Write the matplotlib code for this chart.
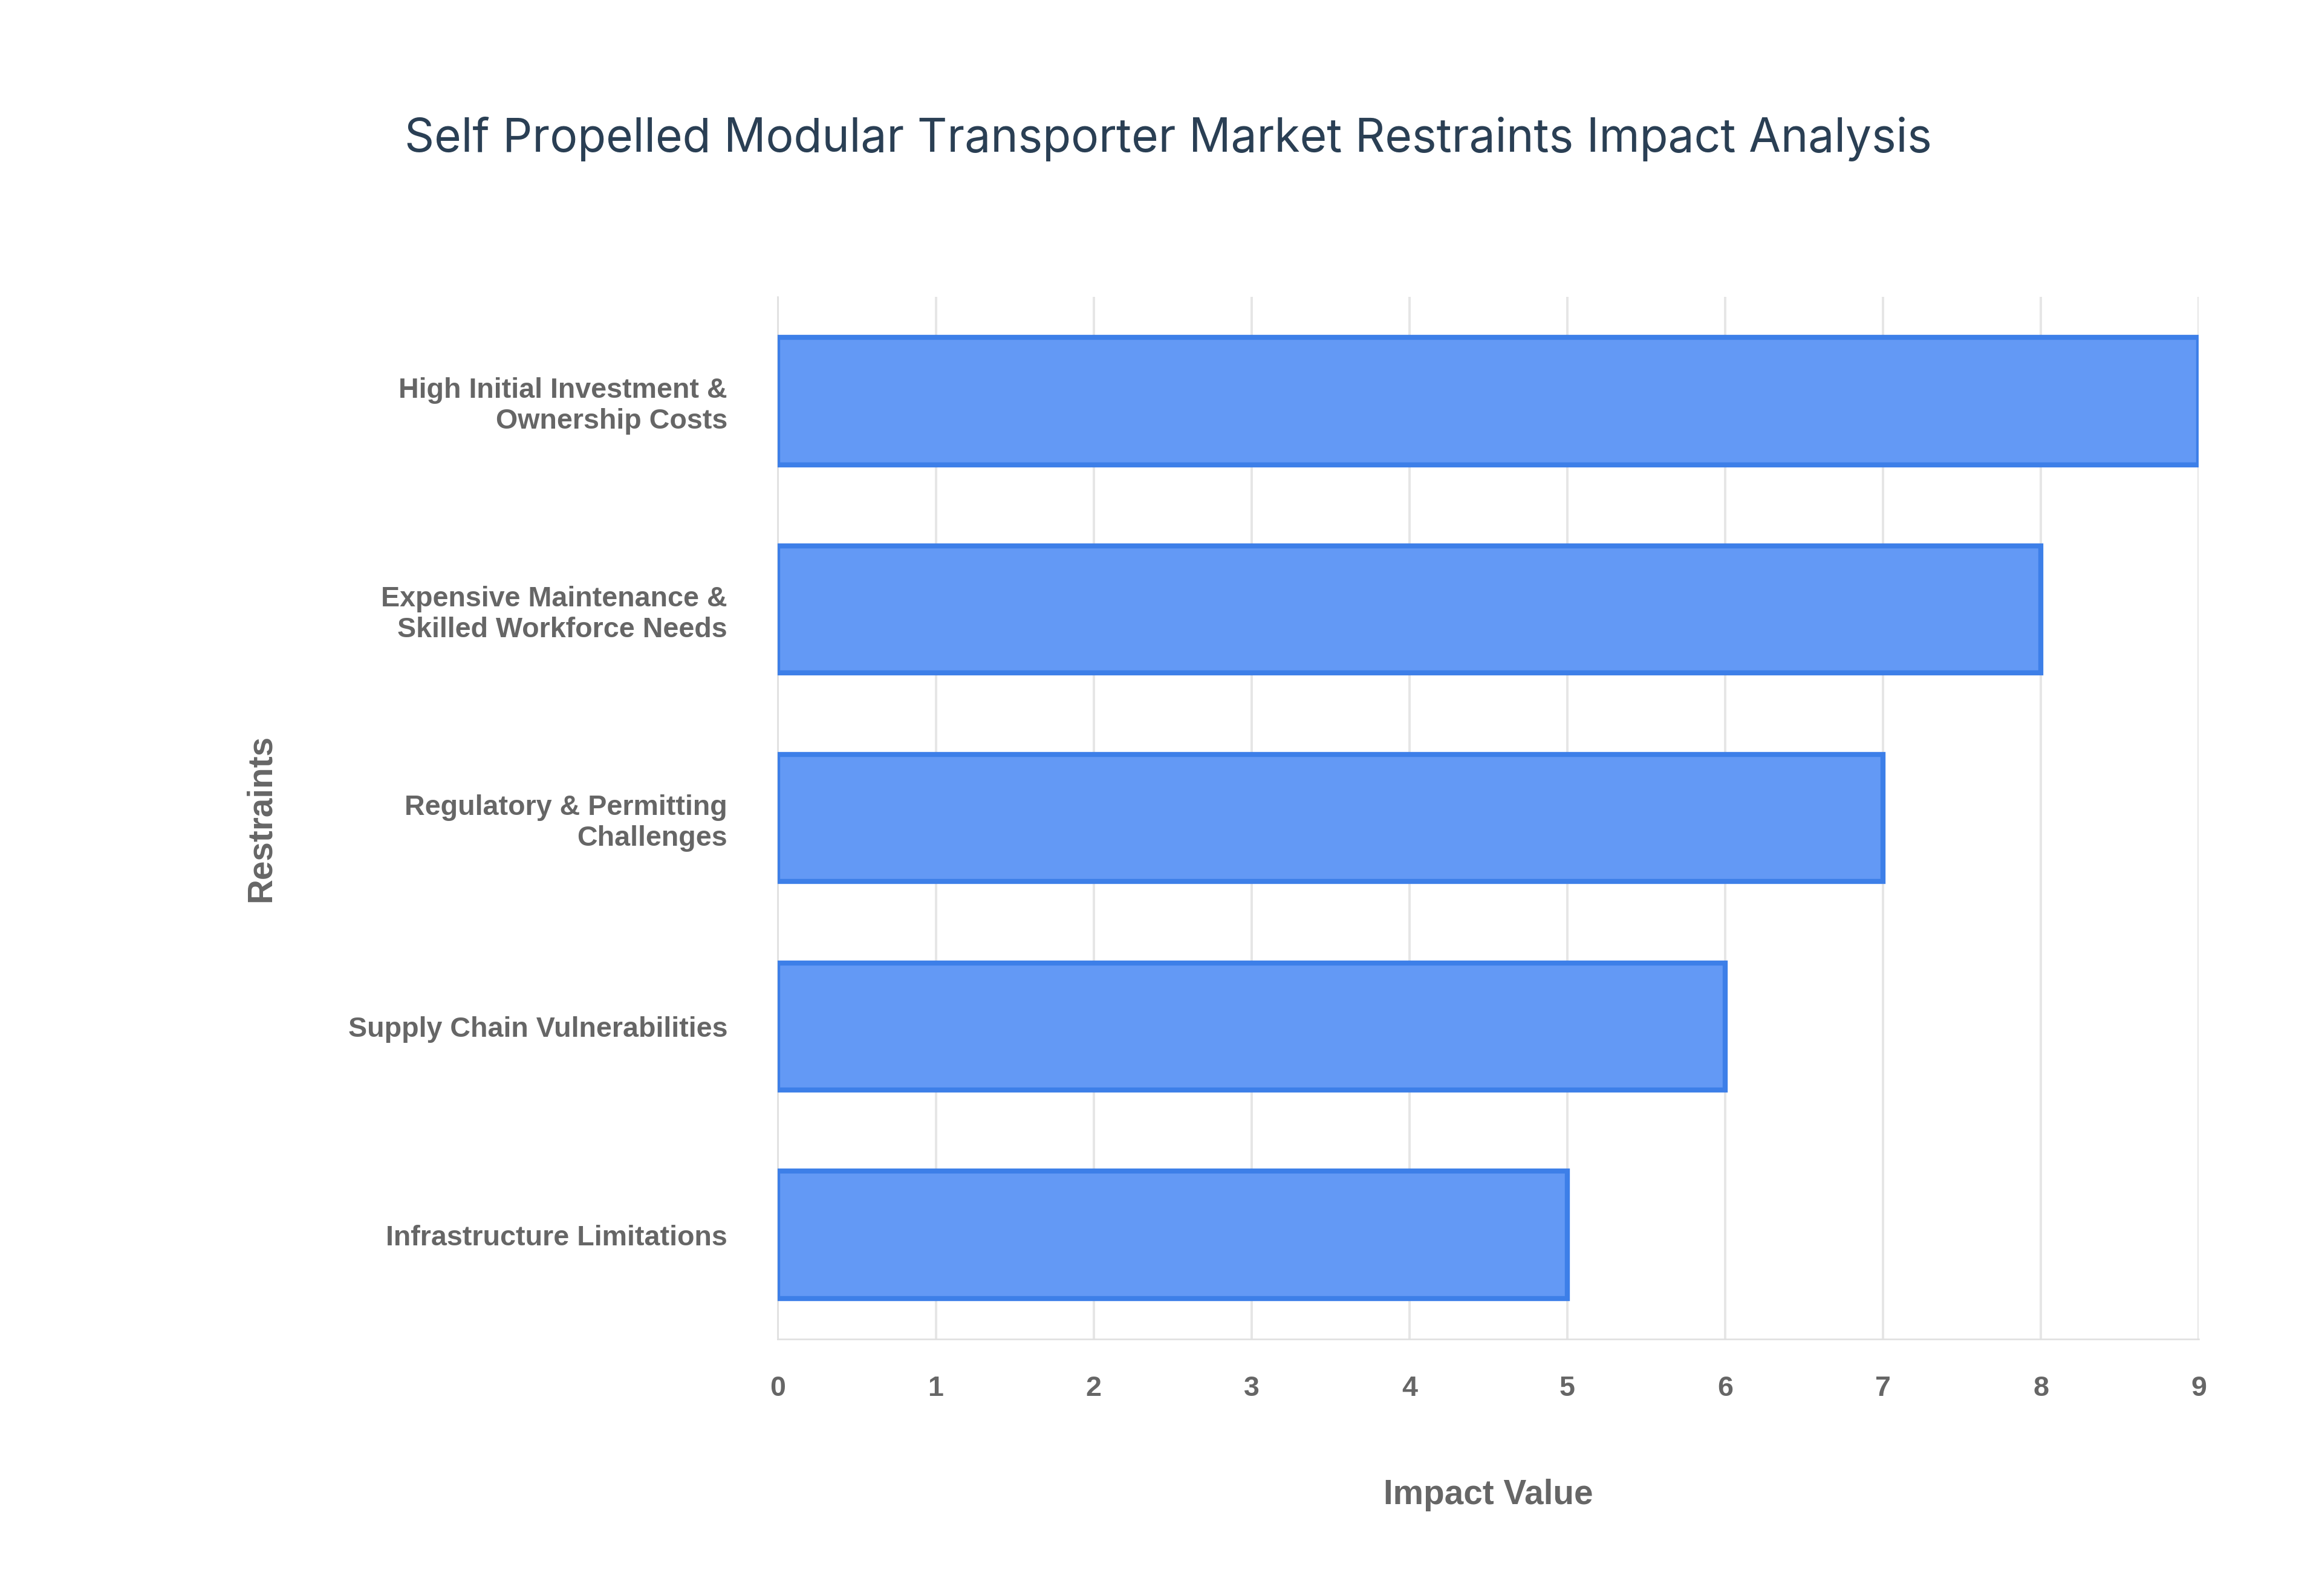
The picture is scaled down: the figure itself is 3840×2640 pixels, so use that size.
import matplotlib
matplotlib.use("Agg")
import matplotlib.pyplot as plt

categories = ["High Initial Investment &\nOwnership Costs",
              "Expensive Maintenance &\nSkilled Workforce Needs",
              "Regulatory & Permitting\nChallenges",
              "Supply Chain Vulnerabilities",
              "Infrastructure Limitations"]
values = [9, 8, 7, 6, 5]
xticks = list(range(10))

fig = plt.figure(figsize=(16, 11), dpi=240)
ax = fig.add_axes([0.335, 0.161, 0.612, 0.653])
ax.barh(range(len(values)), values, height=0.61, color="#6399f5",
        edgecolor="#3d7fe8", linewidth=2.5, zorder=3)
ax.set_xlim(0, 9)
ax.set_ylim(4.5, -0.5)
ax.set_xticks(xticks)
ax.set_yticks(range(len(categories)))
ax.set_yticklabels(categories, fontsize=14, fontweight="bold", color="#666666",
                   family="Liberation Sans", linespacing=1.2)
for t in ax.get_xticklabels():
    t.set_fontsize(14); t.set_fontweight("bold"); t.set_color("#666666"); t.set_family("Liberation Sans")
ax.tick_params(length=0, pad=18)
ax.tick_params(axis="y", pad=25)
ax.grid(axis="x", color="#e6e6e6", linewidth=1.2, zorder=0)
for s in ["top", "right"]:
    ax.spines[s].set_visible(False)
for s in ["left", "bottom"]:
    ax.spines[s].set_color("#e0e0e0")
ax.set_xlabel("Impact Value", fontsize=17, fontweight="bold", color="#666666",
              family="Liberation Sans", labelpad=38)
ax.set_ylabel("Restraints", fontsize=17, fontweight="bold", color="#666666",
              family="Liberation Sans", labelpad=35)
fig.text(0.503, 0.913, "Self Propelled Modular Transporter Market Restraints Impact Analysis",
         ha="center", va="center", fontsize=23, color="#2a3f54", family="Inter")
fig.savefig("out.png", dpi=240, facecolor="white")
